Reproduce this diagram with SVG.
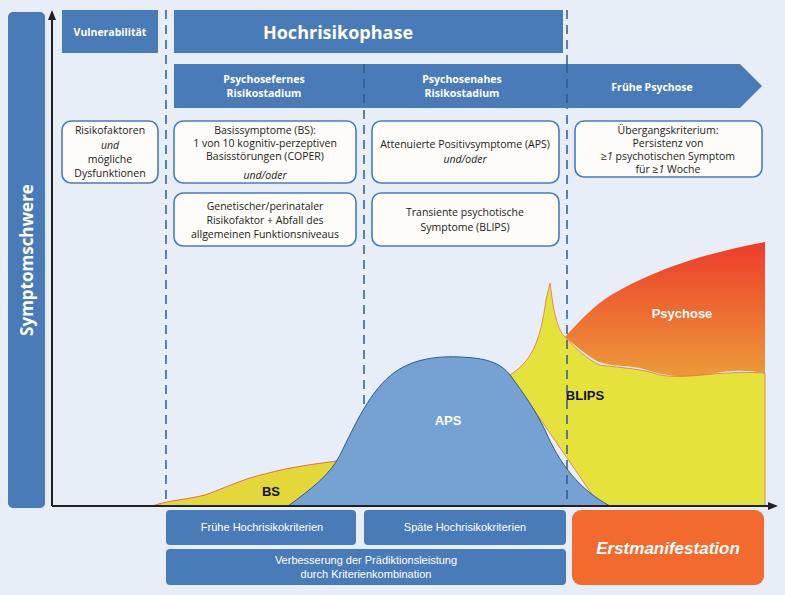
<svg xmlns="http://www.w3.org/2000/svg" width="785" height="595" viewBox="0 0 785 595">
<style>
.hd{fill:#4a7bb9}
.wb{fill:#fdfcf8;stroke:#4a7bb9;stroke-width:1.6}
.t{font-family:"Open Sans","Liberation Sans",sans-serif;font-size:10.5px;fill:#222;text-anchor:middle}
.w{font-family:"Open Sans","Liberation Sans",sans-serif;font-size:10.5px;fill:#fff;font-weight:bold;text-anchor:middle}
.c{font-family:"Liberation Sans",sans-serif;font-size:11px;fill:#fff;text-anchor:middle}
.dash{stroke:#2d5a90;stroke-width:1.5;stroke-dasharray:9,6;fill:none}
.lbl{font-family:"Liberation Sans",sans-serif;font-size:13px;font-weight:bold;text-anchor:middle}
</style>
<defs>
<linearGradient id="rg" x1="0" y1="0" x2="0" y2="1">
<stop offset="0" stop-color="#ee3b2a"/><stop offset="1" stop-color="#ec9a3a"/>
</linearGradient>
<marker id="ah" markerWidth="10" markerHeight="10" refX="8" refY="5" orient="auto" markerUnits="userSpaceOnUse"><path d="M0,1 L10,5 L0,9 Z" fill="#222"/></marker>
</defs>
<rect width="785" height="595" fill="#e8eef8"/>
<g id="ylabel"><rect x="8" y="12" width="37" height="496" rx="5" class="hd"/>
<text transform="translate(33,260) rotate(-90)" font-family="Open Sans,Liberation Sans,sans-serif" font-size="17" font-weight="bold" fill="#fff" text-anchor="middle">Symptomschwere</text></g>
<g id="curves">
<path d="M152,506 C170,500 190,499 205,495 C225,488 245,478 265,474 C290,467 315,464 337,461 L337,506 Z" fill="#e3d73a" stroke="#e0704a" stroke-width="1"/>
<path d="M565,337 C585,315 600,300 620,290 C665,265 720,250 765,242 L765,373 C745,370 730,370 712,374 C690,378 670,378 640,368 C620,365 605,366 595,360 C583,352 572,343 565,337 Z" fill="url(#rg)"/>
<path d="M510,375 C530,362 540,345 546,300 L550,283 L553,305 C557,325 560,332 565,337 C575,348 588,360 600,365 C620,368 640,368 660,375 C690,380 715,370 765,373 L765,506 L600,506 Z" fill="#e6e23c" stroke="#e0704a" stroke-width="0.8"/>
<path d="M288,506 C310,490 330,475 340,455 C355,425 370,390 395,372 C415,358 440,356 460,357 C485,358 500,362 510,375 C525,395 535,410 545,430 C560,465 580,490 610,506 Z" fill="#76a2d3" stroke="#2d5a90" stroke-width="1"/>
<text x="271" y="496" class="lbl" fill="#111">BS</text>
<text x="448" y="425" class="lbl" fill="#fff">APS</text>
<text x="585" y="400" class="lbl" fill="#111">BLIPS</text>
<text x="682" y="318" class="lbl" fill="#fff">Psychose</text>
</g>
<g id="connectors">
<line x1="166" y1="10" x2="166" y2="506" class="dash"/>
<line x1="364" y1="65" x2="364" y2="410" class="dash"/>
<line x1="567" y1="10" x2="567" y2="506" class="dash"/>
<line x1="52" y1="506" x2="52" y2="12" stroke="#222" stroke-width="2" marker-end="url(#ah)"/>
<line x1="52" y1="506" x2="776" y2="506" stroke="#222" stroke-width="2" marker-end="url(#ah)"/>
</g>
<g id="vuln"><rect x="62" y="10" width="96" height="43" class="hd"/><text x="110" y="36" class="w">Vulnerabilität</text></g>
<g id="hoch"><rect x="174" y="10" width="389" height="43" class="hd"/><text x="338" y="39" font-family="Open Sans,Liberation Sans,sans-serif" font-size="18" font-weight="bold" fill="#fff" text-anchor="middle">Hochrisikophase</text></g>
<g id="band"><path d="M174,64 L740,64 L762,86 L740,108 L174,108 Z" class="hd"/>
<line x1="364" y1="64" x2="364" y2="108" class="dash"/><line x1="567" y1="64" x2="567" y2="108" class="dash"/>
<text x="264" y="83" class="w">Psychosefernes</text><text x="264" y="97" class="w">Risikostadium</text>
<text x="462" y="83" class="w">Psychosenahes</text><text x="462" y="97" class="w">Risikostadium</text>
<text x="652" y="91" class="w">Frühe Psychose</text></g>
<g id="risiko"><rect x="62" y="121" width="96" height="62" rx="9" class="wb"/>
<text x="110" y="134" class="t">Risikofaktoren</text><text x="110" y="149" class="t" font-style="italic">und</text><text x="110" y="163" class="t">mögliche</text><text x="110" y="177" class="t">Dysfunktionen</text></g>
<g id="basis"><rect x="174" y="121" width="182" height="62" rx="9" class="wb"/>
<text x="265" y="134" class="t">Basissymptome (BS):</text><text x="265" y="147" class="t">1 von 10 kognitiv-perzeptiven</text><text x="265" y="160" class="t">Basisstörungen (COPER)</text><text x="265" y="179" class="t" font-style="italic">und/oder</text></g>
<g id="gen"><rect x="174" y="193" width="182" height="53" rx="9" class="wb"/>
<text x="265" y="210" class="t">Genetischer/perinataler</text><text x="265" y="224" class="t">Risikofaktor + Abfall des</text><text x="265" y="238" class="t">allgemeinen Funktionsniveaus</text></g>
<g id="aps"><rect x="372" y="121" width="187" height="62" rx="9" class="wb"/>
<text x="465" y="148" class="t">Attenuierte Positivsymptome (APS)</text><text x="465" y="163" class="t" font-style="italic">und/oder</text></g>
<g id="blips"><rect x="372" y="193" width="187" height="53" rx="9" class="wb"/>
<text x="465" y="216" class="t">Transiente psychotische</text><text x="465" y="231" class="t">Symptome (BLIPS)</text></g>
<g id="ueber"><rect x="575" y="121" width="187" height="56" rx="9" class="wb"/>
<text x="668" y="134" class="t">Übergangskriterium:</text><text x="668" y="147" class="t">Persistenz von</text><text x="668" y="160" class="t">≥<tspan font-style="italic">1</tspan> psychotischen Symptom</text><text x="668" y="173" class="t">für ≥<tspan font-style="italic">1</tspan> Woche</text></g>
<g id="frueh"><rect x="166" y="510" width="190" height="35" rx="4" class="hd"/><text x="262" y="531" class="c">Frühe Hochrisikokriterien</text></g>
<g id="spaet"><rect x="364" y="510" width="202" height="35" rx="4" class="hd"/><text x="465" y="531" class="c">Späte Hochrisikokriterien</text></g>
<g id="verb"><rect x="166" y="549" width="400" height="36" rx="4" class="hd"/><text x="366" y="564" class="c">Verbesserung der Prädiktionsleistung</text><text x="366" y="578" class="c">durch Kriterienkombination</text></g>
<g id="erst"><rect x="572" y="510" width="192" height="75" rx="9" fill="#f26a2e"/><text x="668" y="554" font-family="Liberation Sans,sans-serif" font-size="17" font-weight="bold" font-style="italic" fill="#fff" text-anchor="middle">Erstmanifestation</text></g>
</svg>
